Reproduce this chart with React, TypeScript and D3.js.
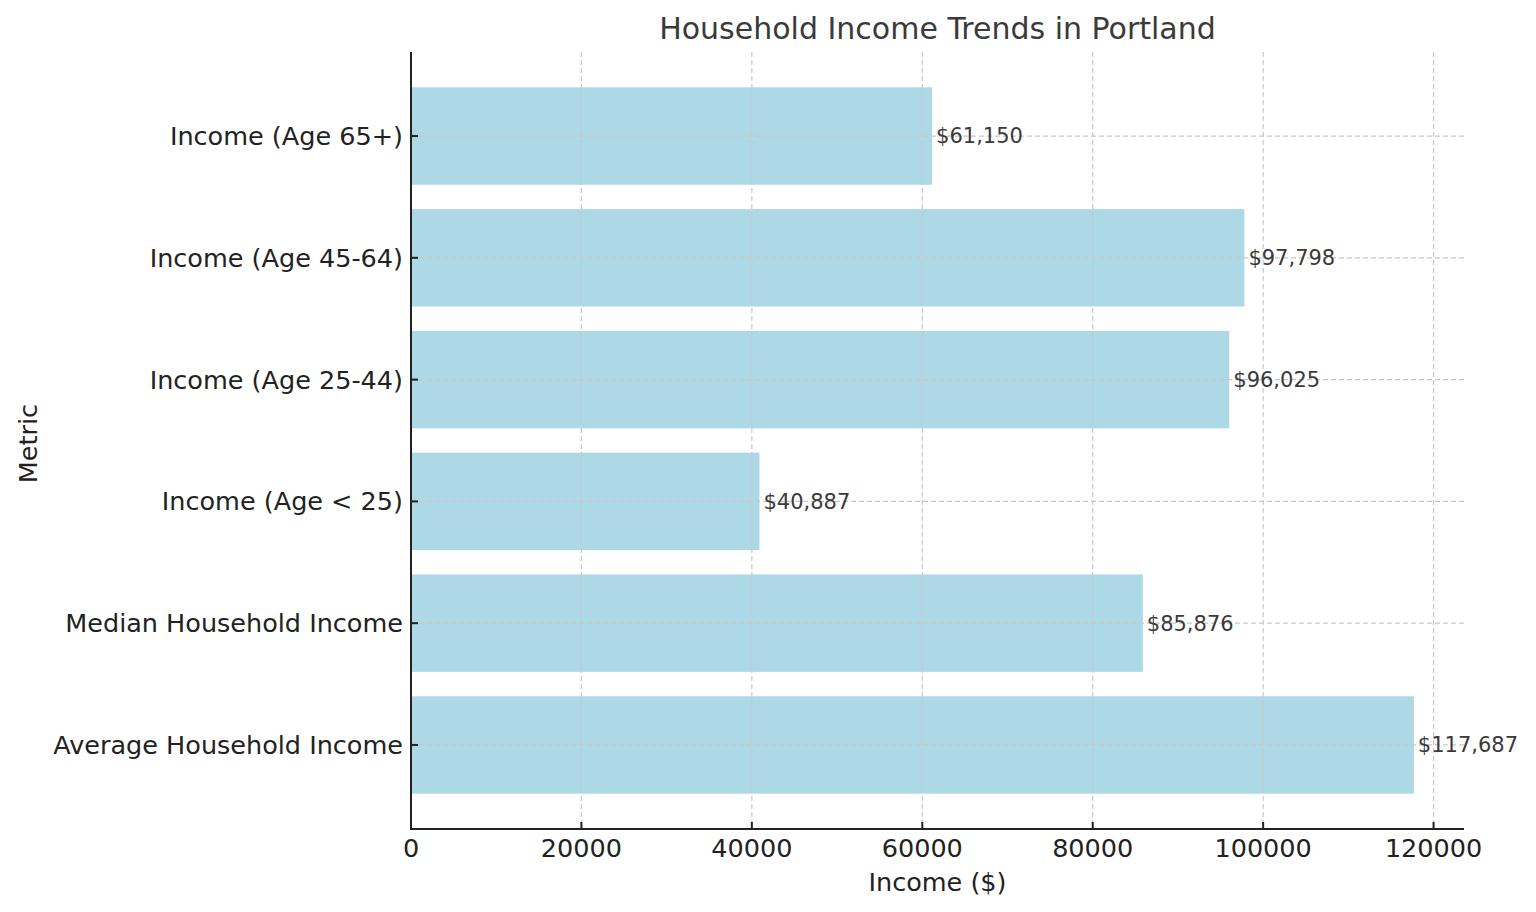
import React from "react";
import * as d3 from "d3";

const categories = [
  "Average Household Income",
  "Median Household Income",
  "Income (Age < 25)",
  "Income (Age 25-44)",
  "Income (Age 45-64)",
  "Income (Age 65+)",
];
const values = [117687, 85876, 40887, 96025, 97798, 61150];
const xTicks = [0, 20000, 40000, 60000, 80000, 100000, 120000];

const W = 1536;
const H = 912;
const left = 411;
const right = 1464;
const top = 52;
const bottom = 829;
const FONT = "'DejaVu Sans', sans-serif";

export default function App() {
  const maxV = d3.max(values) as number;
  const x = d3.scaleLinear().domain([0, maxV * 1.05]).range([left, right]);
  const n = categories.length;
  const pad = 0.4 + 0.05 * (n - 1 + 0.8);
  const y = d3.scaleLinear().domain([-pad, n - 1 + pad]).range([bottom, top]);
  const bh = (y(0) - y(0.8));
  const fmt = d3.format(",");

  return (
    <svg width={W} height={H} style={{ position: "absolute", left: 0, top: 0, background: "#fff" }}>
      <rect x={0} y={0} width={W} height={H} fill="#fff" />
      {values.map((v, i) => (
        <rect key={"b" + i} x={x(0)} y={y(i) - bh / 2} width={x(v) - x(0)} height={bh} fill="#ADD8E6" />
      ))}
      {xTicks.map((t) => (
        <line key={"gx" + t} x1={x(t)} x2={x(t)} y1={top} y2={bottom} stroke="#c8c8c8" strokeWidth={1.2} strokeDasharray="5,3" />
      ))}
      {categories.map((c, i) => (
        <line key={"gy" + i} x1={left} x2={right} y1={y(i)} y2={y(i)} stroke="#c8c8c8" strokeWidth={1.2} strokeDasharray="5,3" />
      ))}
      {values.map((v, i) => (
        <text key={"l" + i} x={x(v) + 4} y={y(i)} dy="0.35em" fontFamily={FONT} fontSize={21} fill="#3a3a3a">
          {"$" + fmt(v)}
        </text>
      ))}
      <line x1={left} x2={left} y1={top} y2={bottom + 1} stroke="#222" strokeWidth={2} />
      <line x1={left - 1} x2={right} y1={bottom} y2={bottom} stroke="#222" strokeWidth={2} />
      {xTicks.map((t) => (
        <g key={"tx" + t}>
          <line x1={x(t)} x2={x(t)} y1={bottom} y2={bottom - 7} stroke="#222" strokeWidth={2} />
          <text x={x(t)} y={848} dy="0.35em" textAnchor="middle" fontFamily={FONT} fontSize={25.5} fill="#222">
            {String(t)}
          </text>
        </g>
      ))}
      {categories.map((c, i) => (
        <g key={"ty" + i}>
          <line x1={left} x2={left + 7} y1={y(i)} y2={y(i)} stroke="#222" strokeWidth={2} />
          <text x={left - 8} y={y(i)} dy="0.35em" textAnchor="end" fontFamily={FONT} fontSize={25.5} fill="#222">
            {c}
          </text>
        </g>
      ))}
      <text x={(left + right) / 2} y={882} dy="0.35em" textAnchor="middle" fontFamily={FONT} fontSize={25.5} fill="#222">
        Income ($)
      </text>
      <text transform={`translate(28,${(top + bottom) / 2 + 3}) rotate(-90)`} dy="0.35em" textAnchor="middle" fontFamily={FONT} fontSize={25.5} fill="#222">
        Metric
      </text>
      <text x={(left + right) / 2} y={28} dy="0.35em" textAnchor="middle" fontFamily={FONT} fontSize={30} fill="#3a3a3a">
        Household Income Trends in Portland
      </text>
    </svg>
  );
}
